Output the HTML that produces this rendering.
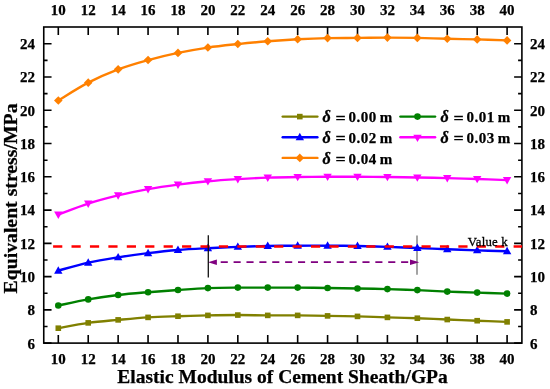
<!DOCTYPE html><html><head><meta charset="utf-8"><style>html,body{margin:0;padding:0;background:#fff;}svg{display:block;}text{font-family:"Liberation Serif",serif;}.b{stroke:#000;stroke-width:0.25px;}</style></head><body>
<svg width="550" height="389" viewBox="0 0 550 389">
<rect width="550" height="389" fill="#fff"/>
<path d="M58.3,343.1 V334.9 M58.3,27 V35 M88.22,343.1 V334.9 M88.22,27 V35 M118.14,343.1 V334.9 M118.14,27 V35 M148.06,343.1 V334.9 M148.06,27 V35 M177.98,343.1 V334.9 M177.98,27 V35 M207.9,343.1 V334.9 M207.9,27 V35 M237.82,343.1 V334.9 M237.82,27 V35 M267.74,343.1 V334.9 M267.74,27 V35 M297.66,343.1 V334.9 M297.66,27 V35 M327.58,343.1 V334.9 M327.58,27 V35 M357.5,343.1 V334.9 M357.5,27 V35 M387.42,343.1 V334.9 M387.42,27 V35 M417.34,343.1 V334.9 M417.34,27 V35 M447.26,343.1 V334.9 M447.26,27 V35 M477.18,343.1 V334.9 M477.18,27 V35 M507.1,343.1 V334.9 M507.1,27 V35 M43.75,343.17 H51.55 M521.9,343.17 H514.1 M43.75,326.54 H47.55 M521.9,326.54 H518.1 M43.75,309.9 H51.55 M521.9,309.9 H514.1 M43.75,293.26 H47.55 M521.9,293.26 H518.1 M43.75,276.63 H51.55 M521.9,276.63 H514.1 M43.75,260 H47.55 M521.9,260 H518.1 M43.75,243.36 H51.55 M521.9,243.36 H514.1 M43.75,226.73 H47.55 M521.9,226.73 H518.1 M43.75,210.09 H51.55 M521.9,210.09 H514.1 M43.75,193.46 H47.55 M521.9,193.46 H518.1 M43.75,176.82 H51.55 M521.9,176.82 H514.1 M43.75,160.19 H47.55 M521.9,160.19 H518.1 M43.75,143.55 H51.55 M521.9,143.55 H514.1 M43.75,126.91 H47.55 M521.9,126.91 H518.1 M43.75,110.28 H51.55 M521.9,110.28 H514.1 M43.75,93.64 H47.55 M521.9,93.64 H518.1 M43.75,77.01 H51.55 M521.9,77.01 H514.1 M43.75,60.38 H47.55 M521.9,60.38 H518.1 M43.75,43.74 H51.55 M521.9,43.74 H514.1" stroke="#000" stroke-width="1.6" fill="none"/>
<rect x="43.75" y="27" width="478.15" height="316.1" stroke="#000" stroke-width="1.6" fill="none"/>
<text x="58.3" y="15.3" font-size="15" font-weight="bold" text-anchor="middle" class="b">10</text>
<text x="58.3" y="363.6" font-size="15" font-weight="bold" text-anchor="middle" class="b">10</text>
<text x="88.22" y="15.3" font-size="15" font-weight="bold" text-anchor="middle" class="b">12</text>
<text x="88.22" y="363.6" font-size="15" font-weight="bold" text-anchor="middle" class="b">12</text>
<text x="118.14" y="15.3" font-size="15" font-weight="bold" text-anchor="middle" class="b">14</text>
<text x="118.14" y="363.6" font-size="15" font-weight="bold" text-anchor="middle" class="b">14</text>
<text x="148.06" y="15.3" font-size="15" font-weight="bold" text-anchor="middle" class="b">16</text>
<text x="148.06" y="363.6" font-size="15" font-weight="bold" text-anchor="middle" class="b">16</text>
<text x="177.98" y="15.3" font-size="15" font-weight="bold" text-anchor="middle" class="b">18</text>
<text x="177.98" y="363.6" font-size="15" font-weight="bold" text-anchor="middle" class="b">18</text>
<text x="207.9" y="15.3" font-size="15" font-weight="bold" text-anchor="middle" class="b">20</text>
<text x="207.9" y="363.6" font-size="15" font-weight="bold" text-anchor="middle" class="b">20</text>
<text x="237.82" y="15.3" font-size="15" font-weight="bold" text-anchor="middle" class="b">22</text>
<text x="237.82" y="363.6" font-size="15" font-weight="bold" text-anchor="middle" class="b">22</text>
<text x="267.74" y="15.3" font-size="15" font-weight="bold" text-anchor="middle" class="b">24</text>
<text x="267.74" y="363.6" font-size="15" font-weight="bold" text-anchor="middle" class="b">24</text>
<text x="297.66" y="15.3" font-size="15" font-weight="bold" text-anchor="middle" class="b">26</text>
<text x="297.66" y="363.6" font-size="15" font-weight="bold" text-anchor="middle" class="b">26</text>
<text x="327.58" y="15.3" font-size="15" font-weight="bold" text-anchor="middle" class="b">28</text>
<text x="327.58" y="363.6" font-size="15" font-weight="bold" text-anchor="middle" class="b">28</text>
<text x="357.5" y="15.3" font-size="15" font-weight="bold" text-anchor="middle" class="b">30</text>
<text x="357.5" y="363.6" font-size="15" font-weight="bold" text-anchor="middle" class="b">30</text>
<text x="387.42" y="15.3" font-size="15" font-weight="bold" text-anchor="middle" class="b">32</text>
<text x="387.42" y="363.6" font-size="15" font-weight="bold" text-anchor="middle" class="b">32</text>
<text x="417.34" y="15.3" font-size="15" font-weight="bold" text-anchor="middle" class="b">34</text>
<text x="417.34" y="363.6" font-size="15" font-weight="bold" text-anchor="middle" class="b">34</text>
<text x="447.26" y="15.3" font-size="15" font-weight="bold" text-anchor="middle" class="b">36</text>
<text x="447.26" y="363.6" font-size="15" font-weight="bold" text-anchor="middle" class="b">36</text>
<text x="477.18" y="15.3" font-size="15" font-weight="bold" text-anchor="middle" class="b">38</text>
<text x="477.18" y="363.6" font-size="15" font-weight="bold" text-anchor="middle" class="b">38</text>
<text x="507.1" y="15.3" font-size="15" font-weight="bold" text-anchor="middle" class="b">40</text>
<text x="507.1" y="363.6" font-size="15" font-weight="bold" text-anchor="middle" class="b">40</text>
<text x="34.9" y="348.57" font-size="15" font-weight="bold" text-anchor="end" class="b">6</text>
<text x="530" y="348.57" font-size="15" font-weight="bold" text-anchor="start" class="b">6</text>
<text x="34.9" y="315.3" font-size="15" font-weight="bold" text-anchor="end" class="b">8</text>
<text x="530" y="315.3" font-size="15" font-weight="bold" text-anchor="start" class="b">8</text>
<text x="34.9" y="282.03" font-size="15" font-weight="bold" text-anchor="end" class="b">10</text>
<text x="530" y="282.03" font-size="15" font-weight="bold" text-anchor="start" class="b">10</text>
<text x="34.9" y="248.76" font-size="15" font-weight="bold" text-anchor="end" class="b">12</text>
<text x="530" y="248.76" font-size="15" font-weight="bold" text-anchor="start" class="b">12</text>
<text x="34.9" y="215.49" font-size="15" font-weight="bold" text-anchor="end" class="b">14</text>
<text x="530" y="215.49" font-size="15" font-weight="bold" text-anchor="start" class="b">14</text>
<text x="34.9" y="182.22" font-size="15" font-weight="bold" text-anchor="end" class="b">16</text>
<text x="530" y="182.22" font-size="15" font-weight="bold" text-anchor="start" class="b">16</text>
<text x="34.9" y="148.95" font-size="15" font-weight="bold" text-anchor="end" class="b">18</text>
<text x="530" y="148.95" font-size="15" font-weight="bold" text-anchor="start" class="b">18</text>
<text x="34.9" y="115.68" font-size="15" font-weight="bold" text-anchor="end" class="b">20</text>
<text x="530" y="115.68" font-size="15" font-weight="bold" text-anchor="start" class="b">20</text>
<text x="34.9" y="82.41" font-size="15" font-weight="bold" text-anchor="end" class="b">22</text>
<text x="530" y="82.41" font-size="15" font-weight="bold" text-anchor="start" class="b">22</text>
<text x="34.9" y="49.14" font-size="15" font-weight="bold" text-anchor="end" class="b">24</text>
<text x="530" y="49.14" font-size="15" font-weight="bold" text-anchor="start" class="b">24</text>
<text x="282.5" y="383.2" font-size="19.5" font-weight="bold" text-anchor="middle" class="b">Elastic Modulus of Cement Sheath/GPa</text>
<text transform="translate(17.3,198.5) rotate(-90)" x="0" y="0" font-size="19.75" font-weight="bold" text-anchor="middle" class="b">Equivalent stress/MPa</text>
<line x1="417" y1="235.6" x2="417" y2="274.8" stroke="#8c8c8c" stroke-width="1.6"/>
<path d="M58.3,328.2 C63.29,327.31 78.25,324.26 88.22,322.88 C98.19,321.49 108.17,320.8 118.14,319.88 C128.11,318.97 138.09,318 148.06,317.39 C158.03,316.78 168.01,316.55 177.98,316.22 C187.95,315.89 197.93,315.58 207.9,315.39 C217.87,315.2 227.85,315.06 237.82,315.06 C247.79,315.06 257.77,315.33 267.74,315.39 C277.71,315.44 287.69,315.31 297.66,315.39 C307.63,315.47 317.61,315.72 327.58,315.89 C337.55,316.05 347.53,316.14 357.5,316.39 C367.47,316.64 377.45,317.08 387.42,317.39 C397.39,317.69 407.37,317.86 417.34,318.22 C427.31,318.58 437.29,319.13 447.26,319.55 C457.23,319.96 467.21,320.32 477.18,320.71 C487.15,321.1 502.11,321.68 507.1,321.88" stroke="#808000" stroke-width="2.4" fill="none" stroke-linejoin="round"/>
<rect x="55.5" y="325.4" width="5.6" height="5.6" fill="#808000"/>
<rect x="85.42" y="320.08" width="5.6" height="5.6" fill="#808000"/>
<rect x="115.34" y="317.08" width="5.6" height="5.6" fill="#808000"/>
<rect x="145.26" y="314.59" width="5.6" height="5.6" fill="#808000"/>
<rect x="175.18" y="313.42" width="5.6" height="5.6" fill="#808000"/>
<rect x="205.1" y="312.59" width="5.6" height="5.6" fill="#808000"/>
<rect x="235.02" y="312.26" width="5.6" height="5.6" fill="#808000"/>
<rect x="264.94" y="312.59" width="5.6" height="5.6" fill="#808000"/>
<rect x="294.86" y="312.59" width="5.6" height="5.6" fill="#808000"/>
<rect x="324.78" y="313.09" width="5.6" height="5.6" fill="#808000"/>
<rect x="354.7" y="313.59" width="5.6" height="5.6" fill="#808000"/>
<rect x="384.62" y="314.59" width="5.6" height="5.6" fill="#808000"/>
<rect x="414.54" y="315.42" width="5.6" height="5.6" fill="#808000"/>
<rect x="444.46" y="316.75" width="5.6" height="5.6" fill="#808000"/>
<rect x="474.38" y="317.91" width="5.6" height="5.6" fill="#808000"/>
<rect x="504.3" y="319.08" width="5.6" height="5.6" fill="#808000"/>
<path d="M58.3,305.57 C63.29,304.55 78.25,301.18 88.22,299.42 C98.19,297.66 108.17,296.22 118.14,295.01 C128.11,293.81 138.09,293.03 148.06,292.18 C158.03,291.34 168.01,290.62 177.98,289.94 C187.95,289.26 197.93,288.5 207.9,288.11 C217.87,287.72 227.85,287.69 237.82,287.61 C247.79,287.53 257.77,287.61 267.74,287.61 C277.71,287.61 287.69,287.55 297.66,287.61 C307.63,287.66 317.61,287.8 327.58,287.94 C337.55,288.08 347.53,288.25 357.5,288.44 C367.47,288.63 377.45,288.83 387.42,289.11 C397.39,289.38 407.37,289.69 417.34,290.1 C427.31,290.52 437.29,291.19 447.26,291.6 C457.23,292.02 467.21,292.27 477.18,292.6 C487.15,292.93 502.11,293.43 507.1,293.6" stroke="#008000" stroke-width="2.4" fill="none" stroke-linejoin="round"/>
<circle cx="58.3" cy="305.57" r="3.3" fill="#008000"/>
<circle cx="88.22" cy="299.42" r="3.3" fill="#008000"/>
<circle cx="118.14" cy="295.01" r="3.3" fill="#008000"/>
<circle cx="148.06" cy="292.18" r="3.3" fill="#008000"/>
<circle cx="177.98" cy="289.94" r="3.3" fill="#008000"/>
<circle cx="207.9" cy="288.11" r="3.3" fill="#008000"/>
<circle cx="237.82" cy="287.61" r="3.3" fill="#008000"/>
<circle cx="267.74" cy="287.61" r="3.3" fill="#008000"/>
<circle cx="297.66" cy="287.61" r="3.3" fill="#008000"/>
<circle cx="327.58" cy="287.94" r="3.3" fill="#008000"/>
<circle cx="357.5" cy="288.44" r="3.3" fill="#008000"/>
<circle cx="387.42" cy="289.11" r="3.3" fill="#008000"/>
<circle cx="417.34" cy="290.1" r="3.3" fill="#008000"/>
<circle cx="447.26" cy="291.6" r="3.3" fill="#008000"/>
<circle cx="477.18" cy="292.6" r="3.3" fill="#008000"/>
<circle cx="507.1" cy="293.6" r="3.3" fill="#008000"/>
<path d="M58.3,270.64 C63.29,269.31 78.25,264.87 88.22,262.66 C98.19,260.44 108.17,258.91 118.14,257.33 C128.11,255.75 138.09,254.39 148.06,253.17 C158.03,251.95 168.01,250.85 177.98,250.01 C187.95,249.18 197.93,248.71 207.9,248.18 C217.87,247.66 227.85,247.21 237.82,246.85 C247.79,246.49 257.77,246.22 267.74,246.02 C277.71,245.83 287.69,245.74 297.66,245.69 C307.63,245.63 317.61,245.63 327.58,245.69 C337.55,245.74 347.53,245.83 357.5,246.02 C367.47,246.22 377.45,246.52 387.42,246.85 C397.39,247.19 407.37,247.63 417.34,248.02 C427.31,248.41 437.29,248.79 447.26,249.18 C457.23,249.57 467.21,250.01 477.18,250.35 C487.15,250.68 502.11,251.04 507.1,251.18" stroke="#0000FF" stroke-width="2.4" fill="none" stroke-linejoin="round"/>
<path d="M58.3,266.24 L62.5,273.64 L54.1,273.64 Z" fill="#0000FF"/>
<path d="M88.22,258.26 L92.42,265.66 L84.02,265.66 Z" fill="#0000FF"/>
<path d="M118.14,252.93 L122.34,260.33 L113.94,260.33 Z" fill="#0000FF"/>
<path d="M148.06,248.77 L152.26,256.17 L143.86,256.17 Z" fill="#0000FF"/>
<path d="M177.98,245.61 L182.18,253.01 L173.78,253.01 Z" fill="#0000FF"/>
<path d="M207.9,243.78 L212.1,251.18 L203.7,251.18 Z" fill="#0000FF"/>
<path d="M237.82,242.45 L242.02,249.85 L233.62,249.85 Z" fill="#0000FF"/>
<path d="M267.74,241.62 L271.94,249.02 L263.54,249.02 Z" fill="#0000FF"/>
<path d="M297.66,241.29 L301.86,248.69 L293.46,248.69 Z" fill="#0000FF"/>
<path d="M327.58,241.29 L331.78,248.69 L323.38,248.69 Z" fill="#0000FF"/>
<path d="M357.5,241.62 L361.7,249.02 L353.3,249.02 Z" fill="#0000FF"/>
<path d="M387.42,242.45 L391.62,249.85 L383.22,249.85 Z" fill="#0000FF"/>
<path d="M417.34,243.62 L421.54,251.02 L413.14,251.02 Z" fill="#0000FF"/>
<path d="M447.26,244.78 L451.46,252.18 L443.06,252.18 Z" fill="#0000FF"/>
<path d="M477.18,245.95 L481.38,253.35 L472.98,253.35 Z" fill="#0000FF"/>
<path d="M507.1,246.78 L511.3,254.18 L502.9,254.18 Z" fill="#0000FF"/>
<path d="M58.3,214.58 C63.29,212.75 78.25,206.79 88.22,203.6 C98.19,200.41 108.17,197.86 118.14,195.45 C128.11,193.04 138.09,190.93 148.06,189.13 C158.03,187.33 168.01,185.94 177.98,184.64 C187.95,183.34 197.93,182.23 207.9,181.31 C217.87,180.4 227.85,179.76 237.82,179.15 C247.79,178.54 257.77,178.01 267.74,177.65 C277.71,177.29 287.69,177.12 297.66,176.99 C307.63,176.85 317.61,176.85 327.58,176.82 C337.55,176.79 347.53,176.79 357.5,176.82 C367.47,176.85 377.45,176.88 387.42,176.99 C397.39,177.1 407.37,177.29 417.34,177.49 C427.31,177.68 437.29,177.9 447.26,178.15 C457.23,178.4 467.21,178.65 477.18,178.98 C487.15,179.32 502.11,179.95 507.1,180.15" stroke="#FF00FF" stroke-width="2.4" fill="none" stroke-linejoin="round"/>
<path d="M58.3,218.88 L62.5,211.48 L54.1,211.48 Z" fill="#FF00FF"/>
<path d="M88.22,207.9 L92.42,200.5 L84.02,200.5 Z" fill="#FF00FF"/>
<path d="M118.14,199.75 L122.34,192.35 L113.94,192.35 Z" fill="#FF00FF"/>
<path d="M148.06,193.43 L152.26,186.03 L143.86,186.03 Z" fill="#FF00FF"/>
<path d="M177.98,188.94 L182.18,181.54 L173.78,181.54 Z" fill="#FF00FF"/>
<path d="M207.9,185.61 L212.1,178.21 L203.7,178.21 Z" fill="#FF00FF"/>
<path d="M237.82,183.45 L242.02,176.05 L233.62,176.05 Z" fill="#FF00FF"/>
<path d="M267.74,181.95 L271.94,174.55 L263.54,174.55 Z" fill="#FF00FF"/>
<path d="M297.66,181.29 L301.86,173.89 L293.46,173.89 Z" fill="#FF00FF"/>
<path d="M327.58,181.12 L331.78,173.72 L323.38,173.72 Z" fill="#FF00FF"/>
<path d="M357.5,181.12 L361.7,173.72 L353.3,173.72 Z" fill="#FF00FF"/>
<path d="M387.42,181.29 L391.62,173.89 L383.22,173.89 Z" fill="#FF00FF"/>
<path d="M417.34,181.79 L421.54,174.39 L413.14,174.39 Z" fill="#FF00FF"/>
<path d="M447.26,182.45 L451.46,175.05 L443.06,175.05 Z" fill="#FF00FF"/>
<path d="M477.18,183.28 L481.38,175.88 L472.98,175.88 Z" fill="#FF00FF"/>
<path d="M507.1,184.45 L511.3,177.05 L502.9,177.05 Z" fill="#FF00FF"/>
<path d="M58.3,100.47 C63.29,97.5 78.25,87.85 88.22,82.67 C98.19,77.48 108.17,73.13 118.14,69.36 C128.11,65.59 138.09,62.79 148.06,60.04 C158.03,57.3 168.01,54.97 177.98,52.89 C187.95,50.81 197.93,49.04 207.9,47.57 C217.87,46.1 227.85,45.13 237.82,44.07 C247.79,43.02 257.77,42.05 267.74,41.24 C277.71,40.44 287.69,39.78 297.66,39.25 C307.63,38.72 317.61,38.31 327.58,38.08 C337.55,37.86 347.53,38 357.5,37.92 C367.47,37.83 377.45,37.59 387.42,37.59 C397.39,37.59 407.37,37.72 417.34,37.92 C427.31,38.11 437.29,38.5 447.26,38.75 C457.23,39 467.21,39.14 477.18,39.41 C487.15,39.69 502.11,40.25 507.1,40.41" stroke="#FF8000" stroke-width="2.4" fill="none" stroke-linejoin="round"/>
<path d="M58.3,96.17 L62.6,100.47 L58.3,104.77 L54,100.47 Z" fill="#FF8000"/>
<path d="M88.22,78.37 L92.52,82.67 L88.22,86.97 L83.92,82.67 Z" fill="#FF8000"/>
<path d="M118.14,65.06 L122.44,69.36 L118.14,73.66 L113.84,69.36 Z" fill="#FF8000"/>
<path d="M148.06,55.74 L152.36,60.04 L148.06,64.34 L143.76,60.04 Z" fill="#FF8000"/>
<path d="M177.98,48.59 L182.28,52.89 L177.98,57.19 L173.68,52.89 Z" fill="#FF8000"/>
<path d="M207.9,43.27 L212.2,47.57 L207.9,51.87 L203.6,47.57 Z" fill="#FF8000"/>
<path d="M237.82,39.77 L242.12,44.07 L237.82,48.37 L233.52,44.07 Z" fill="#FF8000"/>
<path d="M267.74,36.94 L272.04,41.24 L267.74,45.54 L263.44,41.24 Z" fill="#FF8000"/>
<path d="M297.66,34.95 L301.96,39.25 L297.66,43.55 L293.36,39.25 Z" fill="#FF8000"/>
<path d="M327.58,33.78 L331.88,38.08 L327.58,42.38 L323.28,38.08 Z" fill="#FF8000"/>
<path d="M357.5,33.62 L361.8,37.92 L357.5,42.22 L353.2,37.92 Z" fill="#FF8000"/>
<path d="M387.42,33.29 L391.72,37.59 L387.42,41.89 L383.12,37.59 Z" fill="#FF8000"/>
<path d="M417.34,33.62 L421.64,37.92 L417.34,42.22 L413.04,37.92 Z" fill="#FF8000"/>
<path d="M447.26,34.45 L451.56,38.75 L447.26,43.05 L442.96,38.75 Z" fill="#FF8000"/>
<path d="M477.18,35.11 L481.48,39.41 L477.18,43.71 L472.88,39.41 Z" fill="#FF8000"/>
<path d="M507.1,36.11 L511.4,40.41 L507.1,44.71 L502.8,40.41 Z" fill="#FF8000"/>
<line x1="53.1" y1="246.5" x2="522" y2="246.5" stroke="#FF0000" stroke-width="2.5" stroke-dasharray="9.2 9.22"/>
<text x="467.8" y="245.8" font-size="12.8" letter-spacing="0.2" stroke="#000" stroke-width="0.3">Value k</text>
<line x1="220.7" y1="262.2" x2="409" y2="262.2" stroke="#800080" stroke-width="1.8" stroke-dasharray="7.1 5.786"/>
<path d="M208.0,262.2 L216.9,259.5 L216.9,264.9 Z" fill="#800080"/>
<path d="M419.3,262.2 L410,259.5 L410,264.9 Z" fill="#800080"/>
<line x1="208.3" y1="235.2" x2="208.3" y2="277.6" stroke="#111" stroke-width="1.3"/>
<line x1="282.7" y1="116.6" x2="317.4" y2="116.6" stroke="#808000" stroke-width="2.4" stroke-linecap="round"/>
<rect x="297" y="113.8" width="5.6" height="5.6" fill="#808000"/>
<text x="322.6" y="122.2" font-size="16.2" font-weight="bold" font-style="italic" stroke="#000" stroke-width="0.35">δ</text>
<text transform="translate(335.4,122.7) scale(1.2,0.92)" font-size="15" font-weight="bold" stroke="#000" stroke-width="0.3">=</text>
<text y="122.2" font-size="15" font-weight="bold" class="b"><tspan x="348.5" letter-spacing="0.5">0.00 </tspan><tspan x="379.8">m</tspan></text>
<line x1="400.4" y1="116.6" x2="435.1" y2="116.6" stroke="#008000" stroke-width="2.4" stroke-linecap="round"/>
<circle cx="417.5" cy="116.6" r="3.3" fill="#008000"/>
<text x="440.6" y="122.2" font-size="16.2" font-weight="bold" font-style="italic" stroke="#000" stroke-width="0.35">δ</text>
<text transform="translate(453.4,122.7) scale(1.2,0.92)" font-size="15" font-weight="bold" stroke="#000" stroke-width="0.3">=</text>
<text y="122.2" font-size="15" font-weight="bold" class="b"><tspan x="466.5" letter-spacing="0.5">0.01 </tspan><tspan x="497.8">m</tspan></text>
<line x1="282.7" y1="137.2" x2="317.4" y2="137.2" stroke="#0000FF" stroke-width="2.4" stroke-linecap="round"/>
<path d="M299.8,132.8 L304,140.2 L295.6,140.2 Z" fill="#0000FF"/>
<text x="322.6" y="142.8" font-size="16.2" font-weight="bold" font-style="italic" stroke="#000" stroke-width="0.35">δ</text>
<text transform="translate(335.4,143.3) scale(1.2,0.92)" font-size="15" font-weight="bold" stroke="#000" stroke-width="0.3">=</text>
<text y="142.8" font-size="15" font-weight="bold" class="b"><tspan x="348.5" letter-spacing="0.5">0.02 </tspan><tspan x="379.8">m</tspan></text>
<line x1="400.4" y1="137.2" x2="435.1" y2="137.2" stroke="#FF00FF" stroke-width="2.4" stroke-linecap="round"/>
<path d="M417.5,142.1 L421.7,134.7 L413.3,134.7 Z" fill="#FF00FF"/>
<text x="440.6" y="142.8" font-size="16.2" font-weight="bold" font-style="italic" stroke="#000" stroke-width="0.35">δ</text>
<text transform="translate(453.4,143.3) scale(1.2,0.92)" font-size="15" font-weight="bold" stroke="#000" stroke-width="0.3">=</text>
<text y="142.8" font-size="15" font-weight="bold" class="b"><tspan x="466.5" letter-spacing="0.5">0.03 </tspan><tspan x="497.8">m</tspan></text>
<line x1="282.7" y1="157.9" x2="317.4" y2="157.9" stroke="#FF8000" stroke-width="2.4" stroke-linecap="round"/>
<path d="M299.8,153.6 L304.1,157.9 L299.8,162.2 L295.5,157.9 Z" fill="#FF8000"/>
<text x="322.6" y="163.5" font-size="16.2" font-weight="bold" font-style="italic" stroke="#000" stroke-width="0.35">δ</text>
<text transform="translate(335.4,164) scale(1.2,0.92)" font-size="15" font-weight="bold" stroke="#000" stroke-width="0.3">=</text>
<text y="163.5" font-size="15" font-weight="bold" class="b"><tspan x="348.5" letter-spacing="0.5">0.04 </tspan><tspan x="379.8">m</tspan></text>
</svg></body></html>
